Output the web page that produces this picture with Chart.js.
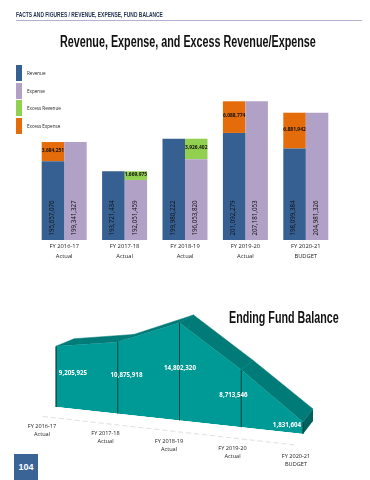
<!DOCTYPE html>
<html><head><meta charset="utf-8">
<script src="https://cdn.jsdelivr.net/npm/chart.js@4"></script>
<style>
html,body{margin:0;padding:0;background:#fff;width:370px;height:480px;overflow:hidden}
#page{position:relative;width:370px;height:480px;font-family:"Liberation Sans",sans-serif;overflow:hidden}
canvas{position:absolute;left:0}
.abs{position:absolute;white-space:nowrap}
.fit{transform-origin:0 0}
#hdr{left:16px;top:10px;font-size:6.6px;font-weight:700;color:#1f2f4f;line-height:9px}
#rule{left:16px;top:20px;width:346px;height:1px;background:#b4b0d4}
#t1{left:60px;top:32px;font-size:16px;font-weight:700;color:#111;line-height:20px}
#t2{left:229px;top:308px;font-size:16px;font-weight:700;color:#111;line-height:20px}
#pg{left:14px;top:454px;width:24px;height:26px;background:#3b6496;color:#fff;font:700 9px/26px "Liberation Sans",sans-serif;text-align:center}
.sw{position:absolute;left:16px;width:6px;height:16px}
.lg{position:absolute;left:27px;font:4.6px/8px "Open Sans",sans-serif;color:#222;white-space:nowrap}
</style></head>
<body><div id="page">
<canvas id="c1" width="370" height="280" style="top:0"></canvas>
<canvas id="c2" width="370" height="200" style="top:280px"></canvas>
<div class="abs fit" id="hdr" data-w="147">FACTS AND FIGURES / REVENUE, EXPENSE, FUND BALANCE</div>
<div class="abs" id="rule"></div>
<div class="abs fit" id="t1" data-w="256">Revenue, Expense, and Excess Revenue/Expense</div>
<div class="abs fit" id="t2" data-w="110">Ending Fund Balance</div>
<div class="abs" id="pg">104</div>
<div id="legend"></div>
</div>
<script>
const categories = [["FY 2016-17","Actual"],["FY 2017-18","Actual"],["FY 2018-19","Actual"],["FY 2019-20","Actual"],["FY 2020-21","BUDGET"]];
const revenue = [195657076,193721434,199980222,201092279,198099384];
const expense = [199341327,192051459,196053820,207181053,204981326];
const excessRevenue = [null,1669975,3926402,null,null];
const excessExpense = [3684251,null,null,6088774,6881942];
const fundBalance = [9205925,10875918,14802320,8713546,1831604];
const legendNames = ["Revenue","Expense","Excess Revenue","Excess Expense"];
const barColors = ["#376092","#b2a1c7","#92d050","#e46c0a"];
const areaFront = "#009a96", areaTop = "#007b78", areaEnd = "#00605e";

const fmt = v => v.toLocaleString("en-US");
const TXT = '"Open Sans",sans-serif';

document.querySelectorAll(".fit").forEach(el=>{
  el.style.transform = `scaleX(${el.dataset.w/el.offsetWidth})`;
});

// legend
const lg = document.getElementById("legend");
legendNames.forEach((n,i)=>{
  const top = 65+i*17.6;
  lg.insertAdjacentHTML("beforeend",`<div class="sw" style="top:${top}px;background:${barColors[i]}"></div><div class="lg" style="top:${top+4}px">${n}</div>`);
});

// bar labels
const barLabels = {
  id:"barLabels",
  afterDatasetsDraw(ch){
    const c = ch.ctx; c.save();
    c.fillStyle="#111"; c.textAlign="center"; c.textBaseline="middle";
    ch.data.datasets.forEach((ds,di)=>{
      const m = ch.getDatasetMeta(di);
      ds.data.forEach((v,i)=>{
        if(v==null) return;
        const e = m.data[i];
        if(di<2){
          c.save();
          c.font=`6.2px ${TXT}`;
          c.translate(e.x-1, ch.chartArea.bottom-22);
          c.rotate(-Math.PI/2);
          c.fillText(fmt(v),0,0);
          c.restore();
        } else {
          c.font=`700 4.9px ${TXT}`;
          c.fillText(fmt(v),e.x,(e.y+e.base)/2-1);
        }
      });
    });
    c.restore();
  }
};

new Chart(document.getElementById("c1"),{
  type:"bar",
  data:{labels:categories,datasets:[
    {label:legendNames[0],data:revenue,stack:"a",backgroundColor:barColors[0]},
    {label:legendNames[1],data:expense,stack:"b",backgroundColor:barColors[1]},
    {label:legendNames[2],data:excessRevenue,stack:"b",backgroundColor:barColors[2]},
    {label:legendNames[3],data:excessExpense,stack:"a",backgroundColor:barColors[3]}
  ]},
  options:{
    responsive:false,animation:false,devicePixelRatio:1,
    layout:{padding:{left:34,right:34,top:90,bottom:0}},
    categoryPercentage:0.745,barPercentage:1,
    plugins:{legend:{display:false},tooltip:{enabled:false},title:{display:false}},
    scales:{
      x:{stacked:true,grid:{display:false,drawTicks:false,tickLength:0},border:{display:false},
         ticks:{color:"#222",font:{family:"Open Sans",size:5.8,lineHeight:1.6},padding:2,maxRotation:0,autoSkip:false},
         afterFit(s){s.height=40}},
      y:{stacked:true,display:false,min:180500000,max:209350000}
    }
  },
  plugins:[barLabels]
});

// skewed area with depth
const K = 27/247;
const lerp = (a,b,t)=>a+(b-a)*t;
const area3d = {
  id:"area3d",
  beforeDatasetsDraw(ch){
    const c=ch.ctx, pts=ch.getDatasetMeta(0).data, x0=ch.chartArea.left, xr=ch.chartArea.right, base=ch.scales.y.getPixelForValue(0);
    const n=pts.length-1, P=(i)=>{const t=i/n;return{x:pts[i].x,y:pts[i].y+K*(pts[i].x-x0),dx:lerp(18,10,t),dy:-7.5-5.5*t*t*t*t}};
    // dashed floor line
    c.save();c.strokeStyle="#d6d6d6";c.lineWidth=.8;c.setLineDash([5,3]);c.beginPath();
    c.moveTo(x0-13,base+9.5);c.lineTo(xr-8,base+K*(xr-x0)+11);c.stroke();c.restore();
    // top surface
    c.save();c.fillStyle=areaTop;c.strokeStyle=areaTop;c.lineWidth=.5;
    for(let i=0;i<n;i++){const a=P(i),b=P(i+1);
      c.beginPath();c.moveTo(a.x,a.y);c.lineTo(a.x+a.dx,a.y+a.dy);c.lineTo(b.x+b.dx,b.y+b.dy);c.lineTo(b.x,b.y);c.closePath();c.fill();c.stroke();}
    // end face
    const e=P(n),by=base+K*(e.x-x0);
    c.fillStyle=areaEnd;c.beginPath();c.moveTo(e.x,e.y);c.lineTo(e.x+e.dx,e.y+e.dy);c.lineTo(e.x+e.dx,by+e.dy);c.lineTo(e.x,by);c.closePath();c.fill();
    c.restore();
    // the library's own area fill is drawn under this skew
    c.save();c.transform(1,K,0,1,0,-K*x0);
  },
  afterDatasetsDraw(ch){
    const c=ch.ctx;
    c.restore();
    const pts=ch.getDatasetMeta(0).data,x0=ch.chartArea.left,base=ch.scales.y.getPixelForValue(0),n=pts.length-1;
    const vals=ch.data.datasets[0].data;
    c.save();
    pts.forEach((p,i)=>{
      const off=K*(p.x-x0),t=i/n;
      c.strokeStyle="#0a2b2b";c.lineWidth=i==0?1.1:.8;
      c.beginPath();c.moveTo(p.x,p.y+off);c.lineTo(p.x,base+off);c.stroke();
      // value label
      c.font=`700 6.2px ${TXT}`;c.fillStyle="#fff";c.textAlign="center";c.textBaseline="middle";
      c.fillText(fmt(vals[i]),p.x+lerp(17,-16,t),(p.y+base)/2+off-3);
      // tick labels
      const lx=p.x+lerp(-14,-7,t),ly=base+off+lerp(19,22,t);
      c.font=`5.6px ${TXT}`;c.fillStyle="#222";
      categories[i].forEach((s,j)=>c.fillText(s,lx,ly+j*8));
    });
    c.restore();
  }
};

new Chart(document.getElementById("c2"),{
  type:"line",
  data:{labels:categories,datasets:[{label:"Ending Fund Balance",data:fundBalance,fill:"origin",backgroundColor:areaFront,borderWidth:0,pointRadius:0,tension:0,clip:false}]},
  options:{
    responsive:false,animation:false,devicePixelRatio:1,
    layout:{padding:{left:56,right:67,top:21.4,bottom:73}},
    plugins:{legend:{display:false},tooltip:{enabled:false},title:{display:false}},
    scales:{
      x:{display:false,offset:false},
      y:{display:false,min:0,max:16000000}
    }
  },
  plugins:[area3d]
});
</script>
</body></html>
